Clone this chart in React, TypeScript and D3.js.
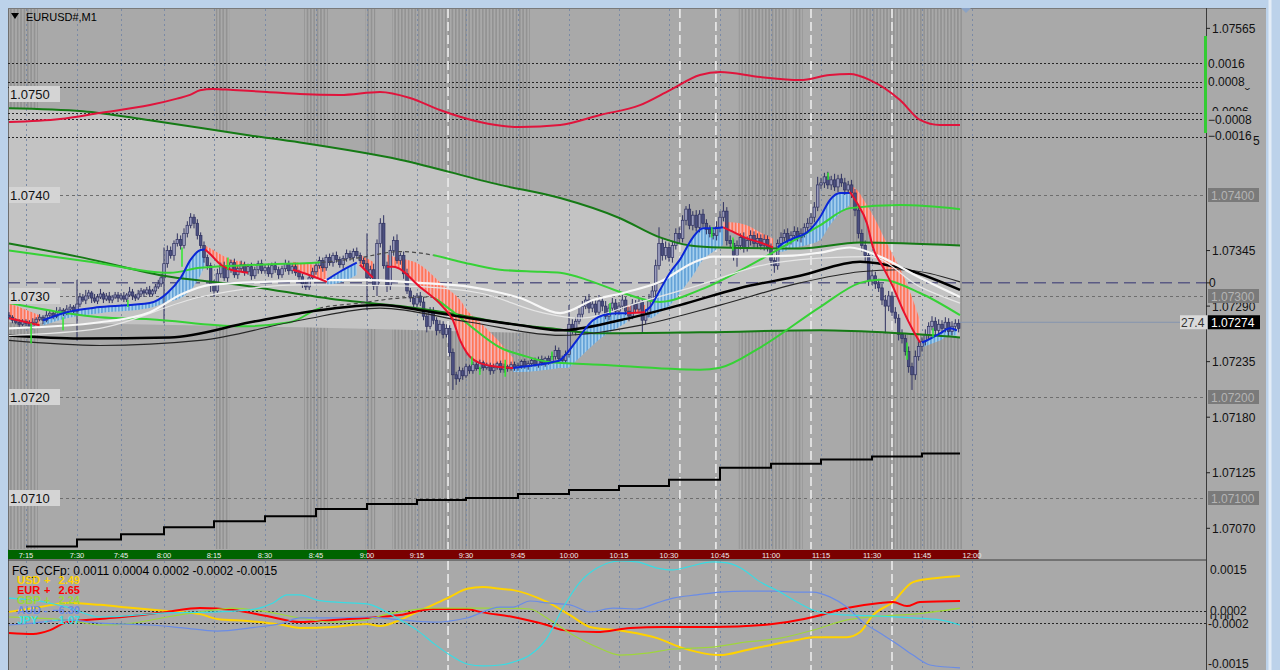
import React from "react";
import * as d3 from "d3";

const FONT = "'Liberation Sans', Arial, sans-serif";
const BASE = 1.07;
const POINT = 0.00001;
const FIRST_MIN = 430; // 7:10
const FIRST_OPEN = 281;

// ---------- time axis ----------
const TIME_LABELS = ["7:15","7:30","7:45","8:00","8:15","8:30","8:45","9:00","9:15","9:30","9:45","10:00","10:15","10:30","10:45","11:00","11:15","11:30","11:45","12:00"];
const TIME_MIN = [435,450,465,480,495,510,525,540,555,570,585,600,615,630,645,660,675,690,705,720];
const TIME_X = [26,77,121,164,214,265,316,367,417,466,518,569,619,669,720,771,821,872,922,972];
const SESSION_SPLIT_MIN = 540;
const SESSION_END_MIN = 722;
const WHITE_MARKERS_MIN = [564.5, 633.2, 643.8, 672, 696];
const STRIPE_ZONES = [[430,438],[496,499],[522,528],[540,542],[548,588],[651,665],[667,669],[684,716.5]];

// ---------- price labels ----------
const LEFT_LEVELS = [1.075, 1.074, 1.073, 1.072, 1.071];
const GRID_LEVELS = [1.074, 1.073, 1.072, 1.071];
const RIGHT_PLAIN = [1.07565, 1.07345, 1.0729, 1.07235, 1.0718, 1.07125, 1.0707];
const RIGHT_BOXED = [1.074, 1.073, 1.072, 1.071];
const CURRENT_PRICE = 1.07274;
const SPREAD_TEXT = "27.4";
const ZERO2_PT = 313;

// ---------- oscillator overlay (units 1e-4) ----------
const OSC_LEVELS = [16, 8, 5.6, -5.6, -8, -16];
const OSC_RED = [[430,-9.5],[445,-8.2],[457.8,-5.6],[475.1,-2.2],[483.9,0.6],[487.8,2.2],[490.8,4.2],[494.7,4.8],[500.6,4.3],[510.6,3.5],[520.3,2.6],[532.1,2.2],[543.9,3.5],[552.9,0.9],[562,-4.3],[574,-9.5],[585.6,-11.7],[597.4,-10.8],[609.3,-6.5],[621.3,-2.2],[630.3,4.3],[639.1,10.8],[645,12.1],[656.8,9.9],[668.7,8.6],[677.6,10.8],[683.5,11.2],[689.4,8.6],[698.4,0],[704.4,-8.6],[710.4,-10.8],[716.4,-10.8]];

// ---------- candles (points above 1.07000) ----------
const CLOSE_PTS = [
  279,276,274,272,275,
  273,270,274,277,279,276,281,283,280,284,286,283,287,289,285,
  292,299,296,300,303,298,295,299,302,297,300,296,299,301,298,
  300,297,301,304,300,298,302,305,303,306,302,305,309,312,318,
  332,345,340,352,356,350,362,370,378,372,360,350,338,330,312,
  305,322,330,318,326,333,321,327,331,324,329,320,326,332,325,
  328,322,330,326,321,327,332,325,329,323,319,312,309,318,324,
  330,335,328,338,333,340,336,331,337,342,338,344,340,335,332,
  318,326,310,352,372,330,310,345,355,335,340,322,305,298,292,
  300,294,280,270,285,276,266,272,262,268,244,222,218,226,221,
  230,226,232,228,234,229,231,226,229,233,227,230,228,232,229,
  231,235,230,233,236,232,237,234,238,235,240,246,238,236,242,
  272,266,275,282,290,296,288,292,284,295,290,280,288,293,285,
  290,296,285,280,292,287,294,276,282,296,305,330,352,340,348,
  338,350,362,357,375,386,370,380,368,381,372,366,362,360,368,
  378,384,355,352,340,350,358,348,355,360,352,357,350,356,348,
  335,330,352,358,362,355,360,364,358,362,368,372,378,388,410,
  412,418,410,415,408,416,412,405,410,402,385,362,350,340,315,
  320,312,308,296,290,300,284,278,262,258,245,230,222,240,250,
  255,262,270,275,266,272,268,274,265,270,273,268,
];
const WICK_UP = [
  3,2,2,3,2,
  2,3,4,2,3,2,4,3,2,5,3,2,4,3,2,
  24,4,3,6,3,2,4,3,5,2,3,4,2,3,3,
  3,4,2,5,3,2,4,3,2,3,4,2,3,4,4,
  16,5,4,3,6,4,5,4,4,3,4,3,4,3,3,
  4,5,3,4,3,3,4,3,4,3,3,4,3,3,4,
  3,4,3,4,3,3,4,3,3,4,3,3,4,3,4,
  3,4,3,3,4,3,4,3,3,4,3,3,4,3,3,
  30,4,6,4,5,8,4,5,4,6,3,4,5,3,3,
  3,4,5,3,4,4,3,4,3,4,3,4,3,4,3,
  3,2,3,4,3,2,3,3,4,2,3,3,2,3,3,
  3,2,3,3,2,3,3,4,2,3,4,5,3,3,4,
  19,5,4,6,5,4,6,4,5,6,4,5,4,5,4,
  4,5,3,4,5,4,3,4,5,6,5,6,16,5,6,
  5,4,5,6,5,3,5,4,5,4,5,4,4,4,6,
  6,9,4,5,4,5,4,5,4,5,4,5,4,5,4,
  4,5,4,5,4,5,4,5,4,5,4,5,4,5,8,
  5,4,5,4,6,4,5,5,4,5,4,5,4,5,4,
  5,4,5,4,5,5,4,5,4,5,4,5,4,6,5,
  4,5,4,5,4,5,4,5,4,5,4,4,
];
const WICK_DN = [
  2,3,2,3,2,
  3,2,3,2,2,4,2,3,3,2,2,3,2,3,2,
  29,3,2,4,3,5,2,3,2,4,2,3,3,2,4,
  2,3,3,2,4,3,2,3,4,2,3,2,3,2,3,
  45,4,3,5,3,4,3,4,3,5,4,3,5,4,8,
  6,3,4,3,4,3,3,4,3,4,3,4,3,4,3,
  3,3,4,3,4,3,3,4,3,3,4,4,3,3,3,
  3,3,4,3,3,4,3,3,4,3,3,4,3,3,4,
  32,3,4,10,4,3,6,4,5,3,4,5,3,4,3,
  3,4,4,6,3,4,5,3,4,3,4,15,6,3,4,
  2,3,3,2,3,3,2,4,3,2,3,3,3,2,3,
  3,3,2,3,3,2,3,3,4,3,2,3,4,3,3,
  3,4,5,3,4,3,5,4,3,4,5,3,4,3,4,
  4,3,4,5,3,4,3,13,4,3,4,5,4,5,4,
  4,5,4,5,4,5,4,5,4,5,4,5,4,4,5,
  5,4,5,4,5,11,4,5,4,5,4,5,4,5,4,
  5,7,4,5,4,5,4,5,4,5,4,5,4,5,4,
  4,5,4,5,4,5,4,5,4,5,6,5,6,7,5,
  4,5,4,5,27,5,4,5,6,5,4,6,15,5,4,
  5,4,5,4,5,4,5,4,5,4,5,4,
];

// ---------- moving averages ([minute, points]) ----------
const DG_TOP = [[430,486],[452,483],[475,474],[505.6,459],[520.3,452],[549.9,435],[579.8,410],[597.4,397],[615.3,377],[627.3,358],[636.2,350],[645,348],[668.7,347],[686.5,353],[716.4,350]];
const DG_LOW = [[430,352],[452,338],[481.8,319],[502.6,311],[532.1,296],[549.9,290],[565.1,283],[579.8,274],[594.4,268],[609.3,263],[639.1,264],[674.7,266],[698.4,263],[716.4,259]];
const CLOUD_LOW = [[430,274],[520.3,269],[609.3,263],[639.1,264],[674.7,266],[698.4,263],[716.4,259]];
const LIME_A = [[430,345],[454.4,334],[481.8,323],[490.8,328],[508.5,331],[529.1,334],[537.9,338],[549.9,344],[559,341],[568.2,334],[579.8,326],[591.5,324],[597.4,323],[606.3,315],[615.3,304],[627.3,294],[639.1,306],[656.8,336],[674.7,370],[683.5,387],[698.4,390],[716.4,386]];
const LIME_B = [[430,293],[445,284],[457.8,279],[475.1,277],[502.6,270],[517.4,274],[526.2,288],[537.9,293],[549.9,298],[559,299],[564.2,289],[570.3,273],[579.8,249],[587.6,240],[593.5,235],[609.3,232],[639.1,227],[645,229],[656.8,249],[674.7,289],[686.5,313],[692.4,316],[704.4,303],[716.4,281]];
const WHITE_THICK = [[430,268],[457.8,274],[475.1,284],[484.8,301],[493.8,311],[520.3,315],[537.9,316],[555.9,313],[571.2,309],[585.6,298],[597.4,283],[607.2,296],[617.4,304],[627.3,314],[637.1,333],[642.9,339],[652.9,339],[666.6,340],[674.7,343],[683.5,348],[692.4,339],[704.4,318],[716.4,299]];
const WHITE_THIN = [[430,261],[457.8,268],[490.8,299],[520.3,311],[549.9,310],[574,303],[591.5,284],[603.3,278],[621.3,294],[639.1,311],[656.8,330],[677.6,338],[689.4,339],[704.4,309],[716.4,293]];
const BLACK_THICK = [[430,261],[451,258],[481.8,259],[505.6,274],[520.3,283],[543.9,291],[555.9,286],[571.2,278],[585.6,271],[597.4,266],[615.3,276],[633.2,291],[650.9,308],[668.7,320],[686.5,334],[698.4,328],[716.4,306]];
const BLACK_THIN = [[430,256],[457.8,251],[490.8,256],[520.3,276],[543.9,288],[571.2,274],[597.4,261],[621.3,271],[645,291],[668.7,313],[686.5,324],[698.4,326],[716.4,314]];
const STEP_LINE = [[435,52],[450,59],[465,64],[480,71],[495,77],[510,82],[525,89],[540,94],[555,98],[570,100],[585,104],[600,108],[615,112],[630,118],[645,130],[660,134],[675,138],[690,141],[705,144],[716.4,144]];

// ---------- trend signal ([minute, line, band]) ----------
const SIG_UP = [
  [[440,276,271],[447,284,278],[457.8,289,283],[475,293,288],[481,303,294],[485,318,298],[488,336,306],[491,345.5,321],[492.3,346,331]],
  [[528.2,316,311],[532,324,313],[537,333,321]],
  [[583.6,228.7,224.7],[585.6,229.7,224.7],[595.3,234.6,227.7],[597.4,236.6,228.7],[599.4,243.5,228.7],[602.4,256.4,236.6],[607.2,276,251.5],[610.2,281,260],[614.4,283,268],[617.4,283,274]],
  [[622.8,285,281],[624.3,289,278],[627.3,306,284],[630.3,323,291],[633.2,336,303],[637.1,358.4,320.8],[640,367,336],[642.9,367,343.5],[645.9,368,350.5]],
  [[662,348,343.5],[662.7,350,343.5],[666.6,357,347.5],[670.8,363,350.5],[674.7,378,355.4],[677.6,395,370],[680.6,402,382],[683.5,402,390]],
  [[705,254,249],[706.5,256,251],[710.4,263,256],[713.4,268,261],[715.5,266,261]],
];
const SIG_DN = [
  [[430,278,293],[439,271,281]],
  [[492.3,346,350],[494,341,347],[497,331,341],[500,326,336],[503,324,334],[505,323,331]],
  [[518.2,326,334],[522,322,332],[528.2,314,330]],
  [[537.9,331,341],[541.8,318,334]],
  [[546,329,341],[547.8,329,339],[555.9,309,331],[563,289,311],[566,276,303],[568.2,256,296],[570.3,243.5,286],[574,233.6,274],[579.8,229.7,254],[583.6,228.7,238.6]],
  [[617.4,283,291],[622.8,284,291]],
  [[645.9,368,373],[647.9,365,373],[652.9,357,370],[656.8,353,363],[660.6,348,357]],
  [[683.5,403,410],[685.6,392,405],[688.5,372,390],[690.3,348,380],[693.3,328.7,360],[696.3,309,340.5],[699.3,286,321],[702.3,266,296],[704.4,254,276]],
];
const SIG_STICKS = [[436.5,273,253],[445.9,279,266],[467.4,296,289],[485.4,348,329],[499.1,338,326],[571.7,240,232],[574,230,222],[581.3,237,220],[595,245,237],[612.3,293,283],[642.6,368,358],[648.8,358,345],[677.1,422,415],[700.5,254,237],[708.3,268,259]];

// ---------- FG_CCFp sub-window (units 1e-4) ----------
const CCF_HEADER = "FG_CCFp: 0.0011 0.0004 0.0002 -0.0002 -0.0015";
const CCF_NAMES = ["USD","EUR","GBP","AUD","JPY"];
const CCF_VALUES = [2.49, 2.65, 2.24, -6.30, -1.07];
const CCF_COLORS = ["#ffd200","#ff0000","#9fd63c","#6a8ce6","#38dce4"];
const CCF_LEVELS = [2, -2];
const USD = [[430,1.6],[439.1,3.1],[447.1,4.4],[457.8,3.8],[469.2,2.8],[480.9,1.9],[490.8,0.9],[495.9,-0.6],[505.6,-1.3],[515.3,-2.5],[520.3,-3.4],[530,-3.1],[540,-2.2],[543.9,-2.8],[549.9,-0.9],[555,1.6],[559.9,3.8],[565.1,6.3],[570.3,8.8],[574.9,9.4],[579.8,8.8],[583.6,8.4],[593.5,4.7],[600.3,0.6],[606.3,-3.1],[616.2,-4.4],[626.4,-6.6],[633.2,-9.4],[638.2,-10.9],[645,-11.9],[652.9,-10.3],[659.7,-8.8],[667.8,-7.2],[672.6,-6.3],[677.6,-6.3],[682.6,-6.3],[686.5,-4.7],[690.3,0.6],[696.3,4.7],[702.3,10.9],[709.5,12.2],[716.4,12.8]];
const EUR = [[430,-5.0],[437.1,-5.3],[442.1,-4.1],[447.1,-1.6],[457.8,-0.6],[469.2,0.3],[480.9,1.6],[490.8,2.8],[500.6,2.2],[510.6,0.3],[520.3,-1.6],[530,-0.9],[540,-0.3],[549.9,0.6],[559.9,2.5],[570.3,2.5],[574,1.6],[583.6,0],[593.5,-2.5],[598.2,-4.1],[608.4,-4.7],[618.3,-3.4],[628.2,-3.1],[642.9,-3.1],[657.6,-2.5],[662.7,-1.9],[672.6,0],[682.6,2.8],[692.4,4.4],[696.3,4.7],[700.5,3.4],[704.4,4.7],[716.4,5.0]];
const GBP = [[430,0],[437.1,-0.3],[447.1,-0.9],[457.8,-2.5],[469.2,-1.9],[480.9,0],[490.8,1.6],[500.6,2.8],[510.6,1.6],[520.3,-0.3],[530,-1.6],[540,-0.9],[544.8,0.6],[549.9,1.6],[559.9,2.8],[570.3,2.8],[579.8,2.8],[588.5,2.5],[593.5,-0.3],[601.2,-5.6],[608.4,-9.4],[615.3,-11.9],[623.4,-11.3],[631.2,-10.0],[642.9,-9.4],[652.9,-7.8],[662.7,-6.6],[672.6,-4.1],[682.6,-0.9],[692.4,0.3],[702.3,0.9],[716.4,2.8]];
const AUD = [[430,-2.5],[437.1,-1.9],[447.1,-0.9],[457.8,-1.9],[475.1,-2.5],[485.7,-3.4],[495.9,-4.4],[505.6,-3.4],[515.3,-1.9],[520.3,-0.3],[530,-0.3],[540,0],[549.9,-0.9],[559.9,-1.6],[570.3,-0.3],[579.8,3.1],[583.6,3.1],[588.5,5.0],[593.5,4.4],[600.3,3.8],[606.3,1.6],[613.2,2.8],[620.4,2.5],[626.4,4.4],[631.2,5.9],[638.2,6.9],[645,7.8],[652.9,8.1],[660.6,8.1],[667.8,7.8],[672.6,7.8],[677.6,6.3],[682.6,3.1],[687.3,-1.6],[692.4,-5.0],[697.5,-8.4],[702.3,-11.9],[707.4,-15.0],[716.4,-15.9]];
const JPY = [[430,5.9],[437.1,5.3],[447.1,3.1],[457.8,0],[480.9,1.3],[495.9,1.6],[505.6,2.2],[512.4,4.4],[516.5,6.9],[520.3,6.9],[525.3,5.3],[530,4.7],[540,4.1],[544.8,2.2],[549.9,-0.9],[555,-4.1],[559.9,-8.1],[565.1,-11.9],[570.3,-14.7],[574.9,-15.3],[579.8,-15.0],[583.6,-14.1],[588.5,-11.9],[593.5,-6.6],[598.2,2.8],[603.3,10.9],[608.4,15.3],[615.3,17.5],[620.4,17.2],[626.4,15.3],[631.2,14.7],[635.3,15.6],[642.9,17.2],[647.1,16.9],[652.9,14.1],[655.9,11.6],[662.7,7.8],[667.8,4.7],[672.6,2.2],[677.6,0.9],[692.4,0.3],[702.3,-0.3],[710.4,-0.9],[716.4,-2.5]];
const CCF_SERIES = [USD, EUR, GBP, AUD, JPY];
const CCF_WIDTHS = [2, 2, 1.2, 1.2, 1.2];

export default function App() {
  const L = 8, R = 1206, TOP = 9, MAIN_B = 549, SUB_T = 561, H = 670;
  const x = d3.scaleLinear().domain(TIME_MIN).range(TIME_X);
  const yPrice = d3.scaleLinear().domain([1.075, 1.071]).range([94, 498]);
  const yp = (pt: number) => yPrice(BASE + pt * POINT);
  const yOsc = d3.scaleLinear().domain([16, -16]).range([63, 137]);
  const ySub = d3.scaleLinear().domain([15, -15]).range([569, 665]);

  const pLine = d3.line<number[]>().x(d => x(d[0])).y(d => yp(d[1])).curve(d3.curveMonotoneX);
  const oLine = d3.line<number[]>().x(d => x(d[0])).y(d => yOsc(d[1])).curve(d3.curveMonotoneX);
  const sLine = d3.line<number[]>().x(d => x(d[0])).y(d => ySub(d[1])).curve(d3.curveMonotoneX);
  const band = d3.area<number[]>().x(d => x(d[0])).y0(d => yp(d[1])).y1(d => yp(d[2])).curve(d3.curveMonotoneX);
  const stepL = d3.line<number[]>().x(d => x(d[0])).y(d => yp(d[1])).curve(d3.curveStepAfter);
  const cloud = d3.line<number[]>().x(d => x(d[0])).y(d => yp(d[1])).curve(d3.curveMonotoneX)(
    [...DG_TOP, ...CLOUD_LOW.slice().reverse()]) + "Z";

  const bars = CLOSE_PTS.map((c, i) => {
    const o = i === 0 ? FIRST_OPEN : CLOSE_PTS[i - 1];
    return { m: FIRST_MIN + i, o, c, hi: Math.max(o, c) + WICK_UP[i], lo: Math.min(o, c) - WICK_DN[i] };
  });

  const fmt5 = d3.format(".5f");
  const fmt4 = d3.format(".4f");
  const midA = x(526.2), midB = x(560);

  return (
    <svg width={1280} height={670} style={{ position: "absolute", left: 0, top: 0, fontFamily: FONT }}>
      <defs>
        <pattern id="stripes" width={3.37} height={10} patternUnits="userSpaceOnUse">
          <rect x={0} y={0} width={1.6} height={10} fill="#929292" />
        </pattern>
        <pattern id="upStripe" width={3.37} height={10} patternUnits="userSpaceOnUse">
          <rect x={0} y={0} width={3.37} height={10} fill="#a9d2ee" />
          <rect x={0} y={0} width={1.8} height={10} fill="#65a3d8" />
        </pattern>
        <pattern id="dnStripe" width={3.37} height={10} patternUnits="userSpaceOnUse">
          <rect x={0} y={0} width={3.37} height={10} fill="#f3bcc4" />
          <rect x={0} y={0} width={2} height={10} fill="#ff7658" />
        </pattern>
        <clipPath id="mainClip"><rect x={L} y={TOP} width={R - L} height={MAIN_B - TOP} /></clipPath>
        <clipPath id="subClip"><rect x={L} y={SUB_T} width={R - L} height={H - SUB_T} /></clipPath>
        <clipPath id="clipOut"><rect x={L} y={TOP} width={midA - L} height={MAIN_B - TOP} /><rect x={midB} y={TOP} width={R - midB} height={MAIN_B - TOP} /></clipPath>
        <clipPath id="clipMid"><rect x={midA} y={TOP} width={midB - midA} height={MAIN_B - TOP} /></clipPath>
        <clipPath id="hide6"><rect x={1208} y={105} width={60} height={6} /></clipPath>
        <clipPath id="hide0"><rect x={1208} y={88} width={60} height={8} /></clipPath>
        <clipPath id="hideSub0"><rect x={1208} y={614} width={60} height={5} /></clipPath>
      </defs>

      {/* window frame */}
      <rect x={0} y={0} width={1280} height={670} fill="#bcd2ea" />
      <rect x={L} y={8} width={1258} height={662} fill="#a9a9a9" />
      <line x1={1270} x2={1270} y1={0} y2={670} stroke="#e4edf7" strokeWidth={3} />
      <line x1={L + 0.5} x2={L + 0.5} y1={8} y2={670} stroke="#5a5a5a" />
      <line x1={L} x2={1266} y1={8.5} y2={8.5} stroke="#7a7a7a" />

      {/* shaded bar zones */}
      <g clipPath="url(#mainClip)">
        {STRIPE_ZONES.map((z, i) => (
          <rect key={i} x={x(z[0]) - 1.6} y={TOP} width={x(z[1]) - x(z[0]) + 3.2} height={MAIN_B - TOP} fill="url(#stripes)" />
        ))}
        <path d={cloud} fill="#c3c3c3" />
      </g>

      {/* grid */}
      {TIME_MIN.map((m, i) => (
        <g key={i}>
          <line x1={x(m) + 0.5} x2={x(m) + 0.5} y1={TOP} y2={MAIN_B} stroke="#7a8aa6" strokeDasharray="2,3" />
          <line x1={x(m) + 0.5} x2={x(m) + 0.5} y1={SUB_T} y2={H} stroke="#7a8aa6" strokeDasharray="2,3" />
        </g>
      ))}
      {GRID_LEVELS.map((p, i) => (
        <line key={i} x1={60} x2={R} y1={Math.round(yPrice(p)) + 0.5} y2={Math.round(yPrice(p)) + 0.5} stroke="#6e6e6e" strokeDasharray="3,3" />
      ))}
      {OSC_LEVELS.map((v, i) => (
        <line key={i} x1={L} x2={R} y1={Math.round(yOsc(v)) + 0.5} y2={Math.round(yOsc(v)) + 0.5} stroke="#262626" strokeDasharray="2,2" />
      ))}
      <line x1={L} x2={R} y1={yp(ZERO2_PT)} y2={yp(ZERO2_PT)} stroke="#5a5a84" strokeWidth={1.5} strokeDasharray="12,6" />

      {/* session markers */}
      {WHITE_MARKERS_MIN.map((m, i) => (
        <g key={i}>
          <line x1={x(m)} x2={x(m)} y1={TOP} y2={MAIN_B} stroke="#ececec" strokeWidth={1.6} strokeDasharray="9,4" />
          <line x1={x(m)} x2={x(m)} y1={SUB_T} y2={H} stroke="#ececec" strokeWidth={1.6} strokeDasharray="9,4" />
        </g>
      ))}

      <g clipPath="url(#mainClip)">
        {/* trend bands */}
        {SIG_UP.map((s, i) => <path key={"bu" + i} d={band(s) || ""} fill="url(#upStripe)" />)}
        {SIG_DN.map((s, i) => <path key={"bd" + i} d={band(s) || ""} fill="url(#dnStripe)" />)}

        {/* candles */}
        {bars.map((b, i) => {
          const cx = x(b.m);
          const top = yp(Math.max(b.o, b.c));
          const bot = yp(Math.min(b.o, b.c));
          const up = b.c >= b.o;
          return (
            <g key={i}>
              <line x1={cx} x2={cx} y1={yp(b.hi)} y2={yp(b.lo)} stroke="#2e3160" strokeWidth={1} />
              <rect x={cx - 1.3} y={top} width={2.6} height={Math.max(1, bot - top)} fill={up ? "#9a9cbc" : "#4c5080"} stroke="#2e3160" strokeWidth={0.7} />
            </g>
          );
        })}

        {/* moving averages */}
        <path d={pLine(DG_TOP) || ""} fill="none" stroke="#157a15" strokeWidth={2} />
        <path d={pLine(DG_LOW) || ""} fill="none" stroke="#157a15" strokeWidth={2} />
        <g clipPath="url(#clipOut)">
          <path d={pLine(LIME_A) || ""} fill="none" stroke="#36d236" strokeWidth={2} />
          <path d={pLine(LIME_B) || ""} fill="none" stroke="#36d236" strokeWidth={2} />
        </g>
        <g clipPath="url(#clipMid)">
          <path d={pLine(LIME_A) || ""} fill="none" stroke="#4a4a4a" strokeWidth={1.2} strokeDasharray="4,3" />
          <path d={pLine(LIME_B) || ""} fill="none" stroke="#4a4a4a" strokeWidth={1.2} strokeDasharray="4,3" />
        </g>
        <path d={pLine(BLACK_THIN) || ""} fill="none" stroke="#262626" strokeWidth={1.2} />
        <path d={pLine(BLACK_THICK) || ""} fill="none" stroke="#000" strokeWidth={2.5} />
        <path d={pLine(WHITE_THIN) || ""} fill="none" stroke="#e6e6e6" strokeWidth={1.2} />
        <path d={pLine(WHITE_THICK) || ""} fill="none" stroke="#f7f7f7" strokeWidth={2.2} />
        <path d={stepL(STEP_LINE) || ""} fill="none" stroke="#000" strokeWidth={2} />

        {/* signal lines */}
        {SIG_UP.map((s, i) => <path key={"lu" + i} d={pLine(s) || ""} fill="none" stroke="#0a26d6" strokeWidth={2} />)}
        {SIG_DN.map((s, i) => <path key={"ld" + i} d={pLine(s) || ""} fill="none" stroke="#e8102c" strokeWidth={2} />)}
        {SIG_STICKS.map((s, i) => (
          <line key={"st" + i} x1={x(s[0])} x2={x(s[0])} y1={yp(s[1])} y2={yp(s[2])} stroke="#2ee82e" strokeWidth={1.5} />
        ))}

        {/* oscillator overlay */}
        <path d={oLine(OSC_RED) || ""} fill="none" stroke="#e0143c" strokeWidth={2} />
      </g>

      {/* left price labels */}
      {LEFT_LEVELS.map((p, i) => (
        <g key={i}>
          <rect x={9} y={yPrice(p) - 8} width={51} height={16} fill="#d4d4d4" />
          <text x={10} y={yPrice(p) + 5} fontSize={13} fill="#111">{fmt4(p)}</text>
        </g>
      ))}

      {/* title */}
      <path d="M11,13 L19,13 L15,19 Z" fill="#000" />
      <text x={26} y={21} fontSize={11} fill="#000">EURUSD#,M1</text>
      <path d="M961,8 L971,8 L966,13 Z" fill="#8aa2c4" />

      {/* time bar */}
      <rect x={L} y={550} width={x(SESSION_SPLIT_MIN) - L} height={9} fill="#006400" />
      <rect x={x(SESSION_SPLIT_MIN)} y={550} width={x(SESSION_END_MIN) - x(SESSION_SPLIT_MIN)} height={9} fill="#7a0000" />
      {TIME_LABELS.map((t, i) => (
        <text key={i} x={TIME_X[i]} y={557.5} fontSize={7.5} fill="#ececec" textAnchor="middle">{t}</text>
      ))}
      <line x1={L} x2={R} y1={560} y2={560} stroke="#3c3c3c" />

      {/* sub window */}
      {CCF_LEVELS.map((v, i) => (
        <line key={i} x1={L} x2={R} y1={Math.round(ySub(v)) + 0.5} y2={Math.round(ySub(v)) + 0.5} stroke="#262626" strokeDasharray="2,2" />
      ))}
      <g clipPath="url(#subClip)">
        {CCF_SERIES.map((s, i) => (
          <path key={i} d={sLine(s) || ""} fill="none" stroke={CCF_COLORS[i]} strokeWidth={CCF_WIDTHS[i]} />
        ))}
      </g>
      <text x={12} y={575} fontSize={12} fill="#000">{CCF_HEADER}</text>
      {CCF_NAMES.map((n, i) => (
        <g key={i} fontWeight="bold" fontSize={11} fill={CCF_COLORS[i]}>
          <text x={17} y={584 + i * 10}>{n}</text>
          <text x={44} y={584 + i * 10}>{CCF_VALUES[i] >= 0 ? "+" : "-"}</text>
          <text x={80} y={584 + i * 10} textAnchor="end">{d3.format(".2f")(CCF_VALUES[i])}</text>
        </g>
      ))}

      {/* right axis */}
      <line x1={R + 0.5} x2={R + 0.5} y1={8} y2={H} stroke="#3a3a3a" />
      <rect x={1204} y={36} width={3} height={97} fill="#33cc33" />
      <line x1={x(716.4)} x2={R} y1={yPrice(CURRENT_PRICE)} y2={yPrice(CURRENT_PRICE)} stroke="#8494ae" />
      {RIGHT_PLAIN.map((p, i) => (
        <g key={i}>
          <line x1={R} x2={R + 4} y1={yPrice(p)} y2={yPrice(p)} stroke="#222" />
          <text x={1212} y={yPrice(p) + 4.5} fontSize={12} fill="#111">{fmt5(p)}</text>
        </g>
      ))}
      <line x1={R} x2={R + 4} y1={yp(ZERO2_PT)} y2={yp(ZERO2_PT)} stroke="#222" />
      <text x={1209} y={yp(ZERO2_PT) + 4.5} fontSize={12} fill="#111">0</text>
      {RIGHT_BOXED.map((p, i) => (
        <g key={i}>
          <rect x={1208} y={yPrice(p) - 7} width={51} height={14} fill="#7a7a7a" />
          <text x={1211} y={yPrice(p) + 4.5} fontSize={12} fill="#b4b4b4">{fmt5(p)}</text>
        </g>
      ))}
      <rect x={1180} y={yPrice(CURRENT_PRICE) - 7} width={27} height={14} fill="#dadada" />
      <text x={1181} y={yPrice(CURRENT_PRICE) + 4.5} fontSize={12} fill="#333">{SPREAD_TEXT}</text>
      <rect x={1208} y={yPrice(CURRENT_PRICE) - 7} width={52} height={14} fill="#000" />
      <text x={1211} y={yPrice(CURRENT_PRICE) + 4.5} fontSize={12} fill="#fff">{fmt5(CURRENT_PRICE)}</text>

      {/* oscillator labels */}
      <text x={1208} y={yOsc(16) + 5} fontSize={12} fill="#111">{fmt4(0.0016)}</text>
      <text x={1244} y={yOsc(5.6) + 3} fontSize={12} fill="#111" clipPath="url(#hide0)">0</text>
      <text x={1208} y={yOsc(8) + 4} fontSize={12} fill="#111">{fmt4(0.0008)}</text>
      <text x={1208} y={yOsc(-5.6) + 3} fontSize={12} fill="#111" clipPath="url(#hide6)">-0.0006</text>
      <text x={1208} y={yOsc(-8) + 5} fontSize={12} fill="#111">{fmt4(-0.0008)}</text>
      <text x={1208} y={yOsc(-16) + 3} fontSize={12} fill="#111">{fmt4(-0.0016)}</text>
      <text x={1253} y={yOsc(-16) + 8} fontSize={12} fill="#111">5</text>

      {/* sub window axis */}
      <text x={1210} y={ySub(15) + 5} fontSize={12} fill="#111">0.0015</text>
      <text x={1210} y={ySub(0) + 4} fontSize={12} fill="#111" clipPath="url(#hideSub0)">0.00</text>
      <text x={1210} y={ySub(2) + 4} fontSize={12} fill="#111">0.0002</text>
      <text x={1208} y={ySub(-2) + 5} fontSize={12} fill="#111">-0.0002</text>
      <text x={1208} y={ySub(-15) + 3} fontSize={12} fill="#111">-0.0015</text>
    </svg>
  );
}
